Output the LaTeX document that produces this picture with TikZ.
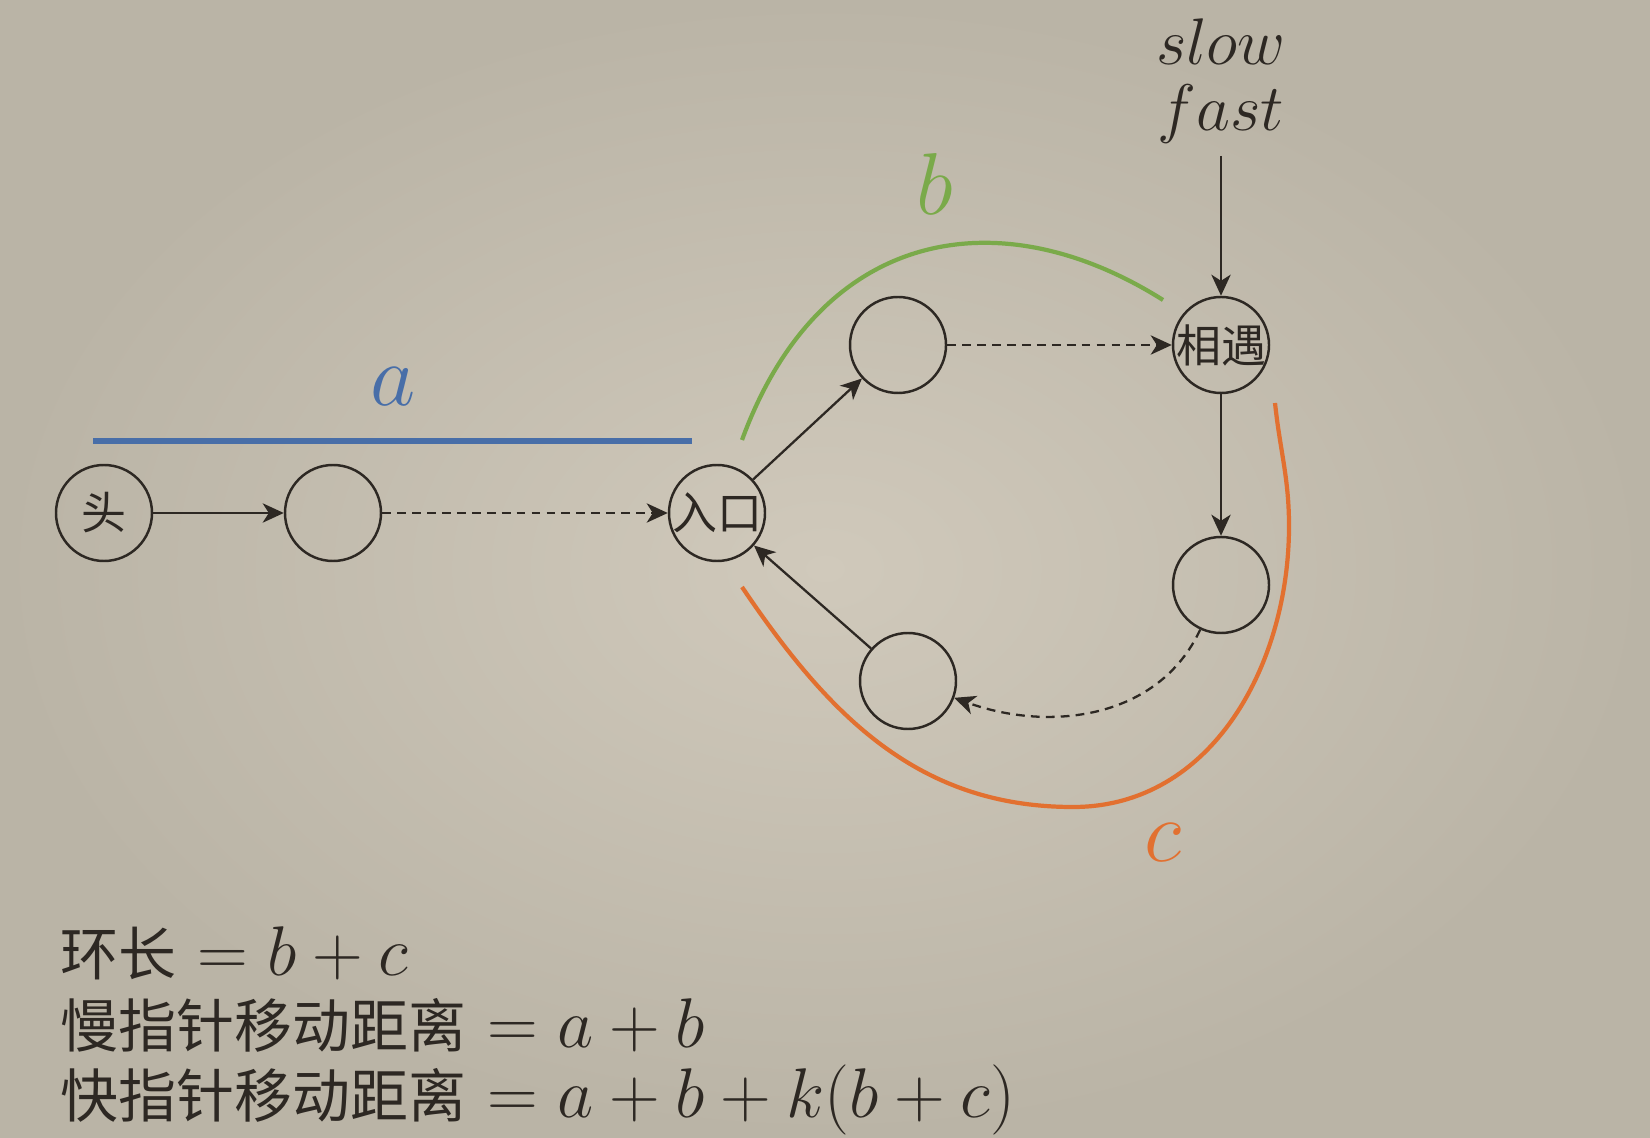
\RequirePackage{fix-cm}
\documentclass[tikz,border=0pt]{standalone}
\usepackage{fontspec}
\usepackage{color}
\usepackage{tikz}
\usetikzlibrary{arrows.meta}

\newfontfamily\cjk[Scale=0.825]{Noto Sans CJK SC}
\definecolor{ink}{RGB}{45,40,35}
\definecolor{bgin}{RGB}{208,201,187}
\definecolor{bgout}{RGB}{186,180,166}
\definecolor{ablue}{RGB}{72,110,168}
\definecolor{bgreen}{RGB}{122,170,74}
\definecolor{corange}{RGB}{226,112,48}

\begin{document}
\begin{tikzpicture}[x=2cm,y=2cm,
	ring/.style={shape=circle,draw=ink,text=ink,line width=1.4pt,
		minimum size=1.92cm,inner sep=-3pt,font=\fontsize{31}{31}\cjk},
	link/.style={-{Stealth[length=12pt,width=11pt,inset=3.5pt]},line width=1.3pt,ink},
	hop/.style={link,dash pattern=on 5pt off 3.5pt},
	tag/.style={font=\fontsize{50}{50}\selectfont},
	eq/.style={anchor=base west,inner sep=0pt,text=ink,font=\fontsize{40}{40}\selectfont}
]
	\shade[inner color=bgin,outer color=bgout] (0,0) rectangle (16.5,11.37);

	\node[ring] at (1.04,6.24) (0) {头};
	\node[ring] at (3.33,6.24) (1) {};
	\node[ring] at (7.17,6.24) (2) {入口};
	\node[ring] at (8.98,7.92) (3) {};
	\node[ring] at (12.21,7.92) (4) {相遇};
	\node[ring] at (12.21,5.52) (5) {};
	\node[ring] at (9.08,4.56) (6) {};

	\node[anchor=south,align=center,inner sep=6.8pt,text=ink,
		font=\fontsize{37.5}{37.5}\selectfont] at (12.21,9.81) (sf) {$slow$\\$fast$};

	\draw[link] (0) -- (1);
	\draw[hop] (1) -- (2);
	\draw[link] (2) -- (3);
	\draw[hop] (3) -- (4);
	\draw[link] (sf) -- (4);
	\draw[link] (4) -- (5);
	\draw[hop] (5) to[out=-115,in=-20] (6);
	\draw[link] (6) -- (2);

	% segments a, b, c
	\draw[ablue,line width=3pt] (0.93,6.96) -- (6.92,6.96);
	\draw[bgreen,line width=2.4pt] (7.42,6.97) .. controls (8.2,9.1) and (10.0,9.4) .. (11.63,8.37);
	\draw[corange,line width=2.4pt] (7.42,5.50) to[out=-56,in=180] (10.73,3.30)
		to[out=0,in=-90] (12.89,6.11) to[out=90,in=-84] (12.75,7.34);

	\node[tag,text=ablue] at (3.93,7.50) (a) {$a$};
	\node[tag,text=bgreen] at (9.35,9.53) (b) {$b$};
	\node[tag,text=corange] at (11.63,2.94) (c) {$c$};

	\node[eq] at (0.6,1.62) (e1) {{\cjk 环长} $= b + c$};
	\node[eq] at (0.6,0.90) (e2) {{\cjk 慢指针移动距离} $= a + b$};
	\node[eq] at (0.6,0.20) (e3) {{\cjk 快指针移动距离} $= a + b + k(b + c)$};
\end{tikzpicture}
\end{document}
